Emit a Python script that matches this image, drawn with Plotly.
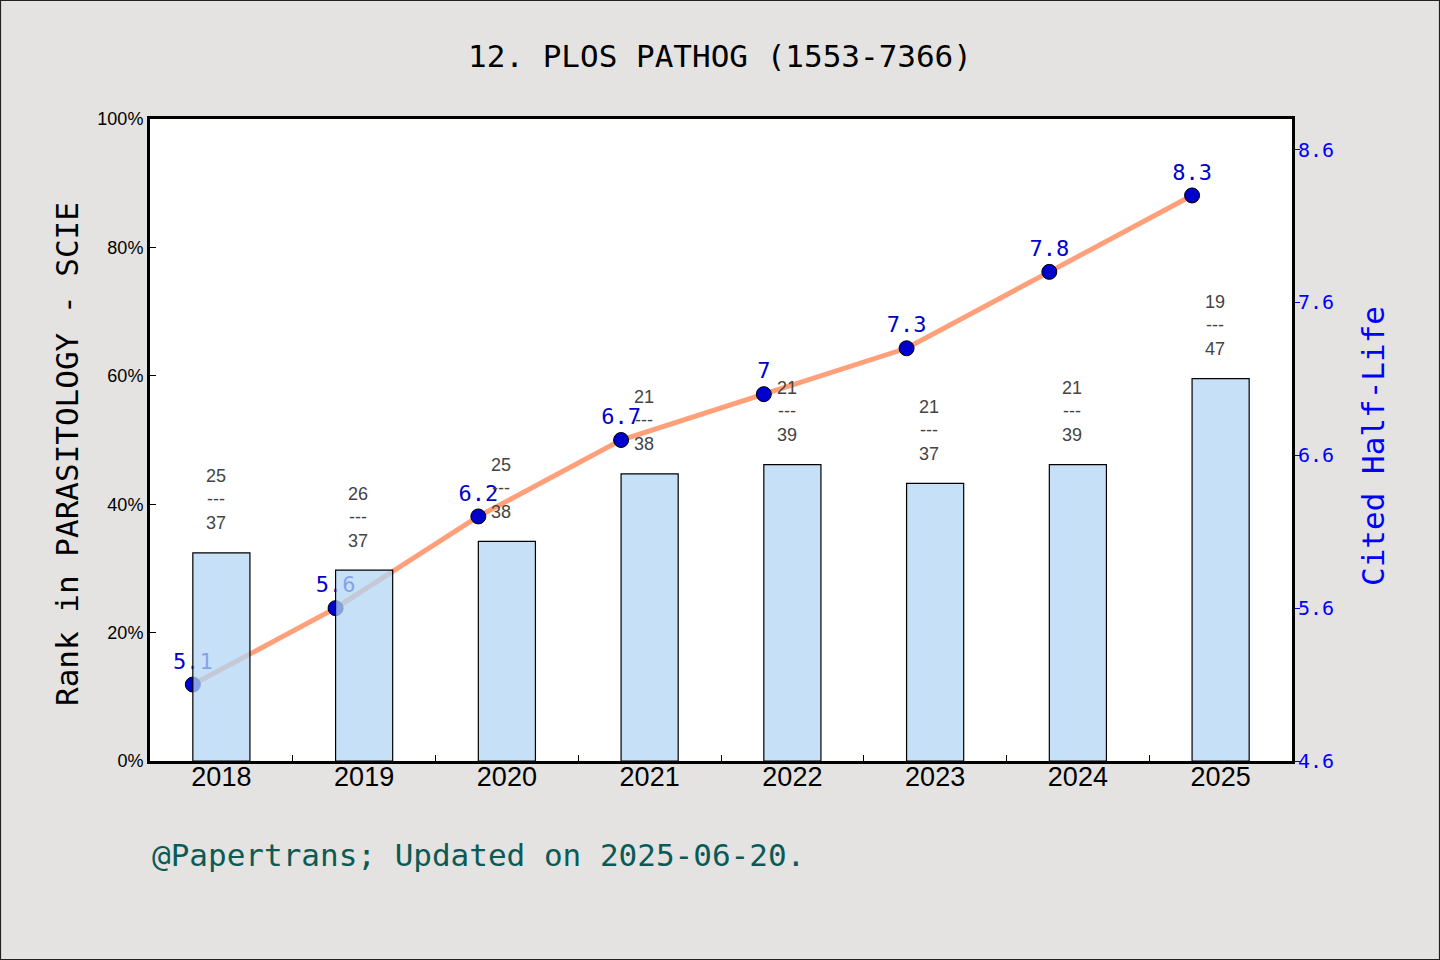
import plotly.graph_objects as go

# ---- data ----
years = ["2018", "2019", "2020", "2021", "2022", "2023", "2024", "2025"]
ranks = [25, 26, 25, 21, 21, 21, 21, 19]
totals = [37, 37, 38, 38, 39, 37, 39, 47]
half_life = [5.1, 5.6, 6.2, 6.7, 7.0, 7.3, 7.8, 8.3]
left_ticks = [0, 0.2, 0.4, 0.6, 0.8, 1.0]
right_ticks = [4.6, 5.6, 6.6, 7.6, 8.6]

title_text = "12. PLOS PATHOG (1553-7366)"
footer_text = "@Papertrans; Updated on 2025-06-20."
left_title = "Rank in PARASITOLOGY - SCIE"
right_title = "Cited Half-Life"

idx = list(range(len(years)))
rank_pct = [1 - r / t for r, t in zip(ranks, totals)]
hl_labels = [f"{v:g}" for v in half_life]

MONO = "DejaVu Sans Mono"
SANS = "Liberation Sans"

# plot area in pixels
L, R, T, B = 150, 1292, 119, 761
PW, PH = R - L, B - T

fig = go.Figure()

# line (drawn beneath bars)
fig.add_trace(go.Scatter(
    x=[i - 0.2 for i in idx], y=half_life,
    mode="lines+markers+text",
    text=hl_labels, textposition="top center",
    textfont=dict(family=MONO, size=22, color="#0000CD"),
    line=dict(color="#FFA07A", width=5),
    marker=dict(size=15, color="#0000CD", line=dict(color="black", width=1)),
    yaxis="y", xaxis="x", showlegend=False, cliponaxis=False,
))

# bars (on overlaying axis -> drawn on top)
fig.add_trace(go.Bar(
    x=idx, y=rank_pct, width=0.4,
    marker=dict(color="rgba(178,214,244,0.75)", line=dict(color="black", width=1.2)),
    yaxis="y2", xaxis="x", showlegend=False,
))

annotations = []
for i, (r, t, p) in enumerate(zip(ranks, totals, rank_pct)):
    annotations.append(dict(
        x=i - 0.04, y=p, xref="x", yref="y2",
        text=f"{r}<br>---<br>{t}", showarrow=False,
        yanchor="middle", xanchor="center", yshift=53,
        font=dict(family=SANS, size=18, color="#444444"),
    ))

annotations.append(dict(
    x=(67 - L) / PW, y=(B - 454) / PH, xref="paper", yref="paper",
    text=left_title, textangle=-90, showarrow=False,
    xanchor="center", yanchor="middle",
    font=dict(family=MONO, size=31, color="black"),
))
annotations.append(dict(
    x=(1373 - L) / PW, y=(B - 446) / PH, xref="paper", yref="paper",
    text=right_title, textangle=-90, showarrow=False,
    xanchor="center", yanchor="middle",
    font=dict(family=MONO, size=31, color="#0000FF"),
))
annotations.append(dict(
    x=0, y=(B - 855) / PH, xref="paper", yref="paper",
    text=footer_text, showarrow=False,
    xanchor="left", yanchor="middle",
    font=dict(family=MONO, size=31, color="#0B5A55"),
))

fig.update_layout(
    width=1440, height=960,
    margin=dict(l=L, r=1440 - R, t=T, b=960 - B),
    paper_bgcolor="#E4E3E1",
    plot_bgcolor="white",
    title=dict(text=title_text, x=0.5, xref="container", xanchor="center",
               y=1 - 56 / 960, yref="container", yanchor="middle",
               font=dict(family=MONO, size=31, color="black")),
    xaxis=dict(
        range=[-0.5, 7.5], tickmode="array", tickvals=idx, ticktext=years,
        ticks="", showgrid=False, zeroline=False, ticklabelstandoff=-10,
        showline=True, mirror=True, linecolor="black", linewidth=3,
        tickfont=dict(family=SANS, size=27, color="black"),
        minor=dict(tickmode="array", tickvals=[i + 0.5 for i in idx[:-1]],
                   ticks="inside", ticklen=6, tickcolor="black", tickwidth=1,
                   showgrid=False),
    ),
    yaxis=dict(
        side="right", range=[4.6, 8.8], tickmode="array", tickvals=right_ticks,
        ticktext=[f"{v:.1f}" for v in right_ticks],
        ticks="outside", ticklen=5, tickcolor="#0000FF", tickwidth=1,
        ticklabelstandoff=-6,
        tickfont=dict(family=MONO, size=20, color="#0000FF"),
        showline=True, linecolor="black", linewidth=3,
        showgrid=False, zeroline=False,
    ),
    yaxis2=dict(
        overlaying="y", side="left", range=[0, 1], tickmode="array",
        tickvals=left_ticks, tickformat=".0%",
        ticks="inside", ticklen=6, tickcolor="black", tickwidth=1,
        tickfont=dict(family=SANS, size=18, color="black"),
        showline=True, linecolor="black", linewidth=3,
        showgrid=False, zeroline=False,
    ),
    annotations=annotations,
    shapes=[dict(
        type="rect", xref="paper", yref="paper",
        x0=(0.5 - L) / PW, x1=(1439.5 - L) / PW,
        y0=(B - 959.5) / PH, y1=(B - 0.5) / PH,
        line=dict(color="#222222", width=1.2), fillcolor="rgba(0,0,0,0)",
        layer="above",
    )],
)

fig.write_html("out.html")
